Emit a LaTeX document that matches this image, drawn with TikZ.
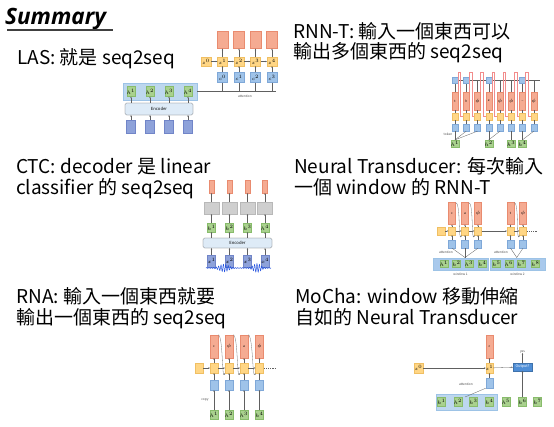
\documentclass[tikz,border=0pt]{standalone}
\usepackage{fontspec}
\setmainfont{Noto Sans CJK TC}
\newfontfamily\titlefont{Open Sans}
\usetikzlibrary{arrows.meta,calc}

\definecolor{pinkfill}{HTML}{F5AB92}
\definecolor{pinkdraw}{HTML}{E98B6F}
\definecolor{yfill}{HTML}{FFD685}
\definecolor{ydraw}{HTML}{F0BF63}
\definecolor{bfill}{HTML}{9FC3E9}
\definecolor{bdraw}{HTML}{7FA8D8}
\definecolor{gfill}{HTML}{A9D18E}
\definecolor{gdraw}{HTML}{88BC6B}
\definecolor{infill}{HTML}{8EA2DA}
\definecolor{indraw}{HTML}{7185C8}
\definecolor{grayfill}{HTML}{CFCFCF}
\definecolor{graydraw}{HTML}{B8B8B8}
\definecolor{bandfill}{HTML}{BDD7EE}
\definecolor{banddraw}{HTML}{9DC3E6}
\definecolor{winfill}{HTML}{A9C9EC}
\definecolor{encfill}{HTML}{DEEBF7}
\definecolor{loopred}{HTML}{F28C8C}
\definecolor{outblue}{HTML}{4F8ED6}
\definecolor{arrgray}{HTML}{606060}
\definecolor{wavecol}{HTML}{1F4FE0}

\newcommand\diafont{\fontsize{3.2}{3.6}\selectfont}

\tikzset{
  txt/.style={anchor=base west, inner sep=0pt, font=\fontsize{19}{19}\selectfont},
  box/.style={draw, line width=0.3pt, inner sep=0pt, font=\diafont},
  pk/.style={box, draw=pinkdraw, fill=pinkfill},
  yl/.style={box, draw=ydraw, fill=yfill},
  bl/.style={box, draw=bdraw, fill=bfill},
  gr/.style={box, draw=gdraw, fill=gfill},
  inb/.style={box, draw=indraw, fill=infill},
  gy/.style={box, draw=graydraw, fill=grayfill},
  band/.style={box, draw=banddraw, fill=bandfill},
  enc/.style={box, draw=black!65, fill=encfill, rounded corners=1.5pt, font=\fontsize{4.2}{5}\selectfont},
  arr/.style={-{Stealth[length=1.6pt,width=1.4pt]}, line width=0.3pt, draw=arrgray},
  ln/.style={line width=0.3pt, draw=arrgray},
  lbl/.style={inner sep=0pt, font=\diafont, text=black!70},
  loopln/.style={line width=0.5pt, draw=loopred},
  curv/.style={arr, draw=black!55},
}

\begin{document}
\begin{tikzpicture}[x=1pt,y=-1pt]
\path[use as bounding box, fill=white] (0,0) rectangle (554,426);

% title
\node[anchor=base west, inner sep=0pt, font=\titlefont\bfseries\itshape\fontsize{22.5}{22.5}\selectfont] (title) at (5,24) {Summary};
\coordinate (ul-a) at (7,30);
\coordinate (ul-b) at (113,30);
\draw[line width=1.1pt, draw=black!75] (ul-a) -- (ul-b);

% texts
\node[txt] (t-las) at (17,64) {LAS: 就是 seq2seq};
\node[txt] (t-rnnt1) at (293,38) {RNN-T: 輸入一個東西可以};
\node[txt] (t-rnnt2) at (293,58) {輸出多個東西的 seq2seq};
\node[txt] (t-ctc1) at (16,173) {CTC: decoder 是 linear};
\node[txt] (t-ctc2) at (16,194) {classifier 的 seq2seq};
\node[txt] (t-nt1) at (294,173) {Neural Transducer: 每次輸入};
\node[txt] (t-nt2) at (294,194) {一個 window 的 RNN-T};
\node[txt] (t-rna1) at (16,303) {RNA: 輸入一個東西就要};
\node[txt] (t-rna2) at (16,324) {輸出一個東西的 seq2seq};
\node[txt] (t-mc1) at (295,303) {MoCha: window 移動伸縮};
\node[txt] (t-mc2) at (295,324) {自如的 Neural Transducer};

% LAS
\node[band, minimum width=74, minimum height=17] (las-band) at (160,91.5) {};
\node[enc, minimum width=68, minimum height=12] (las-enc) at (159,109) {Encoder};
\coordinate (las-att) at (276,91.5);
\draw[ln] (las-band.east) -- (las-att);
\node[lbl] (las-attl) at (245,96.5) {attention};
\node[yl, minimum width=10, minimum height=9] (las-z0) at (206,61.5) {$z^0$};
\foreach \i/\j/\x in {1/0/222.5,2/1/239,3/2/255.5,4/3/272}{
  \node[pk, minimum width=11, minimum height=17] (las-y\i) at (\x,40) {};
  \node[yl, minimum width=10, minimum height=9] (las-z\i) at (\x,61.5) {$z^\i$};
  \node[bl, minimum width=10, minimum height=10] (las-c\i) at (\x,77.5) {$c^\j$};
  \draw[arr] (las-z\j) -- (las-z\i);
  \draw[arr] (las-c\i) -- (las-z\i);
  \draw[arr] (las-z\i) -- (las-y\i);
  \draw[ln] (las-c\i.south) -- (las-c\i.south |- las-att);
}
\foreach \i/\x in {1/131,2/150,3/169,4/188}{
  \node[gr, minimum width=8, minimum height=10] (las-h\i) at (\x,91.5) {$h^\i$};
  \node[inb, minimum width=9, minimum height=13] (las-x\i) at (\x,126.5) {};
  \draw[arr] (las-x\i) -- (las-x\i |- las-enc.south);
  \draw[arr] (las-x\i |- las-enc.north) -- (las-h\i);
}

% CTC
\node[enc, minimum width=69, minimum height=10] (ctc-enc) at (237.5,243) {Encoder};
\foreach \i/\x in {1/211.5,2/229.5,3/247.5,4/265}{
  \node[pk, minimum width=5, minimum height=13] (ctc-y\i) at (\x,186.5) {};
  \node[gy, minimum width=15, minimum height=12] (ctc-g\i) at (\x,208) {};
  \node[gr, minimum width=8, minimum height=9] (ctc-h\i) at (\x,227.5) {$h^\i$};
  \node[inb, minimum width=8, minimum height=12] (ctc-x\i) at (\x,261) {$x^\i$};
  \draw[arr] (ctc-g\i) -- (ctc-y\i);
  \draw[arr] (ctc-h\i) -- (ctc-g\i);
  \draw[arr] (ctc-h\i |- ctc-enc.north) -- (ctc-h\i);
  \draw[arr] (ctc-x\i) -- (ctc-x\i |- ctc-enc.south);
}
\draw[wavecol, line width=0.45pt] plot[domain=206:271, samples=320]
  (\x, {268 + (0.4 + 3.5*exp(-((\x-224)/6)^2) + 4*exp(-((\x-257)/5)^2))*sin((\x-200)*150)});

% RNN-T
\coordinate (rt-end) at (540,80);
\foreach \i/\l in {1/t,2/h,3/$\phi$,4/e,5/$\phi$,6/$\phi$,7/\_,8/$\phi$}{
  \pgfmathsetmacro\x{455+11.25*(\i-1)}
  \node[pk, minimum width=6, minimum height=18] (rt-p\i) at (\x,101) {\l};
  \node[yl, minimum width=6, minimum height=7] (rt-y\i) at (\x,116.5) {};
  \node[bl, minimum width=6, minimum height=7] (rt-b\i) at (\x,127.5) {};
  \draw[ln] (rt-b\i) -- (rt-y\i);
  \draw[ln] (rt-y\i) -- (rt-p\i);
  \draw[ln] (rt-p\i.north) -- (rt-p\i.north |- rt-end);
}
\draw[ln] (rt-p1.north |- rt-end) -- (rt-end);
\foreach \i in {1,2,4,7}
  \node[bl, minimum width=6, minimum height=6] (rt-t\i) at (rt-p\i.north |- rt-end) {};
\foreach \i/\j in {1/2,2/3,3/4,4/5,5/6,6/7,7/8}
  \draw[loopln] (rt-p\i.north east) -- ++(0,-20) -| ($(rt-p\i.north east)!0.5!(rt-p\j.north west)$) |- (rt-y\j.west);
\foreach \i/\x in {1/455,2/488.75,3/511.25,4/522.5}
  \node[gr, minimum width=6, minimum height=7] (rt-h\i) at (\x,143.5) {$h^\i$};
\foreach \a/\b in {1/1,1/2,1/3,2/4,2/5,3/6,4/7,4/8}
  \draw[ln] (rt-h\a.north) -- (rt-b\b.south);
\node[lbl] (rt-tok) at (448,134) {token};

% Neural Transducer
\node[band, fill=winfill, minimum width=55, minimum height=12] (nt-w1) at (460.5,264) {};
\node[band, fill=winfill, minimum width=55, minimum height=12] (nt-w2) at (517.5,264) {};
\foreach \i/\x in {1/444,2/456.5,3/469,4/482.5,5/496.5,6/509,7/521.5,8/535.5}
  \node[gr, minimum width=6, minimum height=7] (nt-h\i) at (\x,264) {$h^\i$};
\node[lbl] (nt-wl1) at (460.5,274) {window 1};
\node[lbl] (nt-wl2) at (517.5,274) {window 2};
\node[yl, minimum width=8, minimum height=8] (nt-y0) at (441,231) {};
\foreach \i/\x/\l in {1/452/c,2/465/a,3/478/$\phi$,4/510.5/t,5/523/$\phi$}{
  \node[pk, minimum width=7, minimum height=22] (nt-p\i) at (\x,213.5) {\l};
  \node[yl, minimum width=7, minimum height=8] (nt-y\i) at (\x,231) {};
  \node[bl, minimum width=7, minimum height=8] (nt-b\i) at (\x,244) {};
  \draw[arr] (nt-y\i) -- (nt-p\i);
  \draw[arr] (nt-b\i) -- (nt-y\i);
}
\foreach \j/\i in {0/1,1/2,2/3,3/4,4/5}
  \draw[arr] (nt-y\j) -- (nt-y\i);
\coordinate (nt-end) at (537,231);
\draw[ln, dash pattern=on 1.2pt off 1pt] (nt-y5) -- (nt-end);
\coordinate (nt-a1) at (465,257.5);
\coordinate (nt-a2) at (516.75,257.5);
\foreach \i in {1,2,3} \draw[ln] (nt-b\i.south) -- (nt-a1);
\foreach \i in {4,5} \draw[ln] (nt-b\i.south) -- (nt-a2);
\node[lbl] (nt-att1) at (446,252.5) {attention};
\node[lbl] (nt-att2) at (501,252.5) {attention};
\foreach \i/\j in {1/2,2/3,4/5}
  \draw[curv] (nt-p\i.north east) .. controls +(5,0) and +(-3,9) .. (nt-y\j.south west);

% RNA
\node[yl, minimum width=8, minimum height=10] (rna-y0) at (199,368) {};
\foreach \i/\x/\l in {1/214/c,2/229/$\phi$,3/244/a,4/259.5/$\phi$}{
  \node[pk, minimum width=8, minimum height=23] (rna-p\i) at (\x,346.5) {\l};
  \node[yl, minimum width=8, minimum height=10] (rna-y\i) at (\x,368) {};
  \node[bl, minimum width=8, minimum height=10] (rna-b\i) at (\x,385) {};
  \node[gr, minimum width=7, minimum height=9] (rna-h\i) at (\x,415) {$h^\i$};
  \draw[arr] (rna-y\i) -- (rna-p\i);
  \draw[arr] (rna-b\i) -- (rna-y\i);
  \draw[arr] (rna-h\i) -- (rna-b\i);
}
\foreach \j/\i in {0/1,1/2,2/3,3/4}
  \draw[arr] (rna-y\j) -- (rna-y\i);
\coordinate (rna-end) at (276,368);
\draw[ln, dash pattern=on 1.2pt off 1pt] (rna-y4) -- (rna-end);
\foreach \i/\j in {1/2,2/3,3/4}
  \draw[curv] (rna-p\i.north east) .. controls +(5,0) and +(-3,9) .. (rna-y\j.south west);
\node[lbl] (rna-copy) at (205,400) {copy};

% MoCha
\node[band, minimum width=61, minimum height=16] (mc-band) at (466.5,402) {};
\foreach \i/\x in {1/441.5,2/458,3/473.5,4/489.5,5/506,6/522.5,7/537.5}
  \node[gr, minimum width=7, minimum height=9] (mc-h\i) at (\x,402) {$h^\i$};
\node[pk, minimum width=7, minimum height=23] (mc-c) at (489.5,346.5) {c};
\node[yl, minimum width=9, minimum height=10] (mc-z0) at (418.5,368) {$z^0$};
\node[yl, minimum width=7, minimum height=10] (mc-z1) at (489.5,368) {$z^1$};
\node[box, draw=outblue!80!black, fill=outblue, text=white, minimum width=19, minimum height=8, font=\fontsize{3.6}{4}\selectfont] (mc-out) at (522.5,367) {Output?};
\node[lbl] (mc-yes) at (522.5,351.5) {yes};
\node[bl, minimum width=7, minimum height=10] (mc-b) at (489.5,383) {};
\node[lbl] (mc-attl) at (466,384) {attention};
\coordinate (mc-att) at (465,397);
\draw[arr] (mc-z0) -- (mc-z1);
\draw[arr] (mc-z1) -- (mc-out);
\draw[arr] (mc-z1) -- (mc-c);
\draw[arr] (mc-b) -- (mc-z1);
\draw[ln] (mc-b.south west) -- (mc-att);
\draw[arr] (mc-out) -- (mc-yes);
\draw[arr] (mc-h6) -- (mc-out);
\end{tikzpicture}
\end{document}
